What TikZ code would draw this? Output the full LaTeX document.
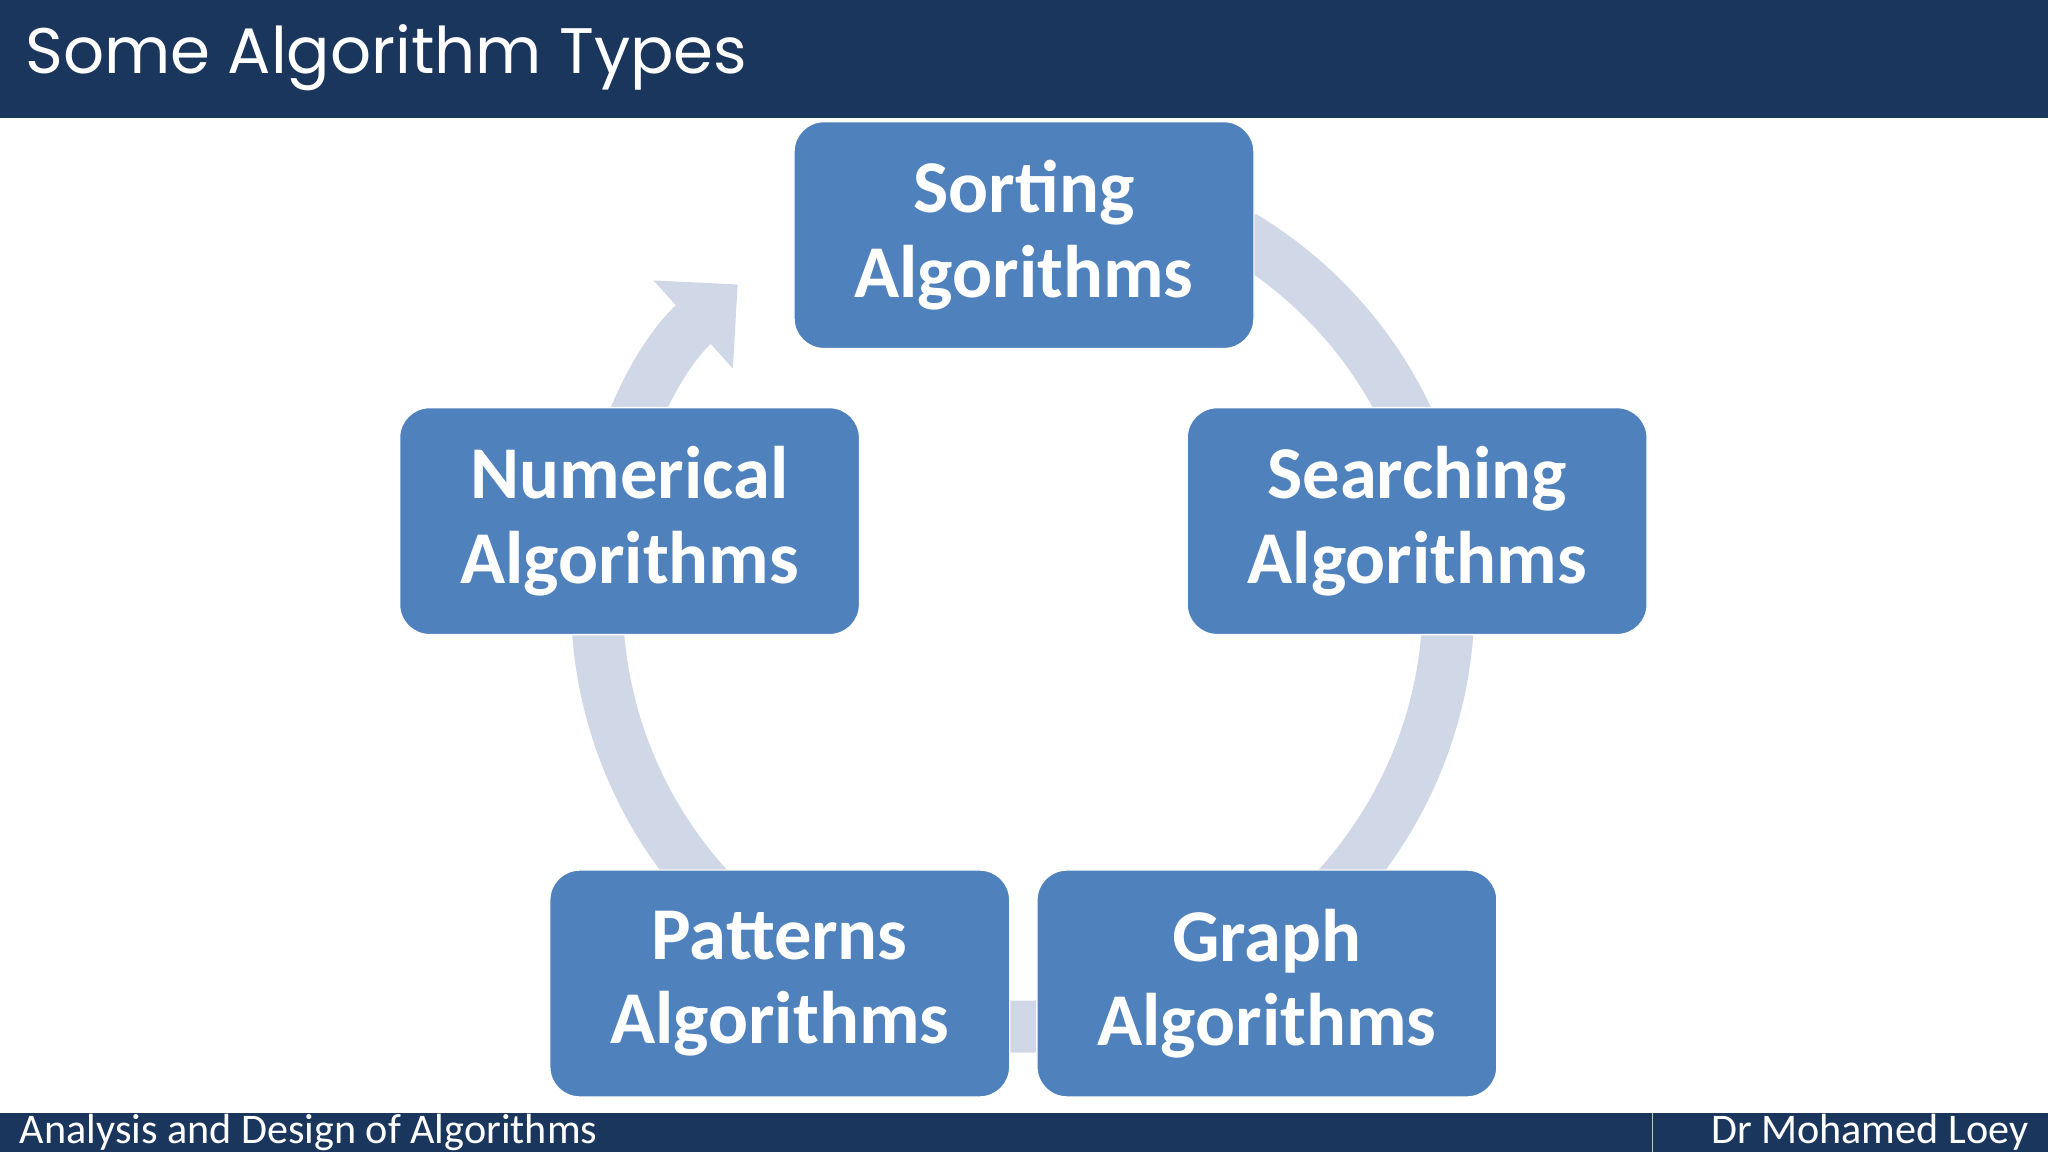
\documentclass[tikz,border=0pt]{standalone}
\usepackage{fontspec}
\setmainfont{Carlito}
\newfontfamily\titlefont{Poppins}
\usetikzlibrary{arrows.meta,calc}
\definecolor{navy}{HTML}{1B365D}
\definecolor{boxblue}{HTML}{4F81BD}
\definecolor{ringgray}{HTML}{D0D8E8}
\begin{document}
\begin{tikzpicture}[
	x=0.013061cm, y=0.013061cm,
	algbox/.style={
		draw=white,
		fill=boxblue,
		rounded corners=0.3cm,
		minimum width=4.6cm,
		minimum height=2.27cm,
		text=white,
		align=center,
		font=\fontsize{21.2}{24}\selectfont\bfseries,
	},
	bar/.style={fill=navy},
]
\useasboundingbox (0,0) rectangle (1568,882);

% title and footer bars
\fill[bar] (0,792) rectangle (1568,882);
\fill[bar] (0,0) rectangle (1568,30);
\draw[white!70!navy] (1265,0) -- (1265,30);
\node[anchor=west, text=white, font=\titlefont\fontsize{18.3}{22}\selectfont] (title) at (10,838) {Some Algorithm Types};
\node[anchor=west, text=white, font=\fontsize{12}{13}\selectfont, inner sep=1pt] (course) at (12,15) {Analysis and Design of Algorithms};
\node[anchor=east, text=white, font=\fontsize{12}{13}\selectfont, inner sep=1pt] (author) at (1556,15) {Dr Mohamed Loey};

% cycle ring
\coordinate (centre) at (783,422);
\draw[ringgray, line width=0.52cm, -{Triangle[width=1.15cm,length=0.6cm]}]
	($(centre)+(59:4.258cm)$) arc[start angle=59, end angle=-228, radius=4.258cm];

% boxes
\node[algbox] (sorting) at (784,702) {Sorting\\Algorithms};
\node[algbox] (searching) at (1085,483) {Searching\\Algorithms};
\node[algbox] (graph) at (970,129) {Graph\\Algorithms};
\node[algbox] (patterns) at (597,129) {Patterns\\Algorithms};
\node[algbox] (numerical) at (482,483) {Numerical\\Algorithms};
\end{tikzpicture}
\end{document}
